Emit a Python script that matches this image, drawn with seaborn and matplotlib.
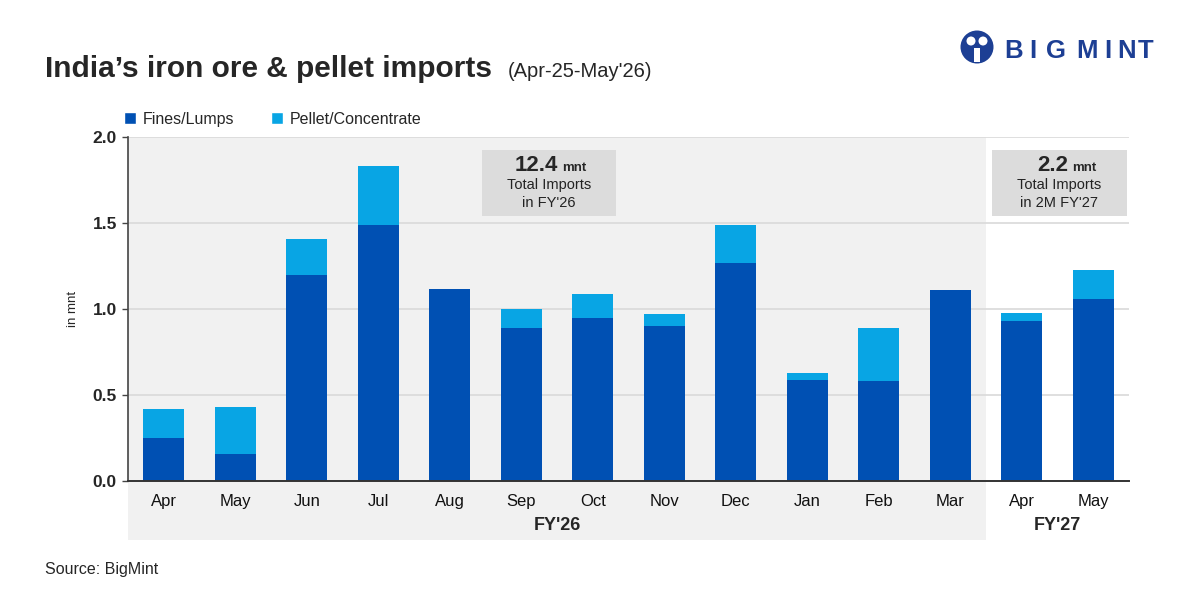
import pandas as pd
import matplotlib.pyplot as plt
import matplotlib.transforms as mtransforms
from matplotlib.patches import Rectangle, Circle, Patch
import seaborn as sns


# data (mnt)
periods = ["Apr'25", "May'25", "Jun'25", "Jul'25", "Aug'25", "Sep'25", "Oct'25",
           "Nov'25", "Dec'25", "Jan'26", "Feb'26", "Mar'26", "Apr'26", "May'26"]
months = ["Apr", "May", "Jun", "Jul", "Aug", "Sep", "Oct",
          "Nov", "Dec", "Jan", "Feb", "Mar", "Apr", "May"]
fines_lumps = [0.25, 0.16, 1.20, 1.49, 1.12, 0.89, 0.95, 0.90, 1.27, 0.59, 0.58, 1.11, 0.93, 1.06]
pellet_conc = [0.17, 0.27, 0.21, 0.34, 0.00, 0.11, 0.14, 0.07, 0.22, 0.04, 0.31, 0.00, 0.05, 0.17]
fy_labels = ["FY'26", "FY'27"]
fy_totals = ["12.4", "2.2"]
fy_notes = ["in FY'26", "in 2M FY'27"]

FINES = "#0050b3"
PELLET = "#08a5e4"
BG_GRAY = "#f1f1f1"
BOX_GRAY = "#dcdcdc"
LOGO_BLUE = "#1d3f94"

sns.set_style("white")
plt.rcParams['font.family'] = ['Liberation Sans', 'DejaVu Sans']

df = pd.DataFrame({"period": periods, "month": months,
                   "fines": fines_lumps, "pellet": pellet_conc})
df["total"] = df["fines"] + df["pellet"]


def px(x, y):
    """pixel position (from top-left) -> figure fraction"""
    return x / 1200, 1 - y / 600


def main():
    fig = plt.figure(figsize=(12, 6), dpi=100)
    ax = fig.add_axes([0.1067, 0.198, 0.8342, 0.5733])

    # stacked bars: total in pellet colour, fines drawn over it
    sns.barplot(data=df, x="period", y="total", order=periods, color=PELLET,
                saturation=1, width=0.57, ax=ax, zorder=3, linewidth=0)
    sns.barplot(data=df, x="period", y="fines", order=periods, color=FINES,
                saturation=1, width=0.57, ax=ax, zorder=4, linewidth=0)

    ax.set_xlim(-0.5, 13.5)
    ax.set_ylim(0, 2.0)
    ax.set_facecolor("white")

    # grey backdrop for FY'26, running down under the month labels
    trans = mtransforms.blended_transform_factory(ax.transData, ax.transAxes)
    ax.add_patch(Rectangle((-0.5, -0.172), 12, 1.172, transform=trans,
                           facecolor=BG_GRAY, edgecolor="none", clip_on=False, zorder=0))

    # grid
    for y in [0.5, 1.0, 1.5, 2.0]:
        ax.axhline(y, color="#d9d9d9", lw=1.2, zorder=1)

    for s in ["top", "right"]:
        ax.spines[s].set_visible(False)
    ax.spines["left"].set_color("#444444")
    ax.spines["bottom"].set_color("#333333")
    ax.spines["left"].set_linewidth(1.2)
    ax.spines["bottom"].set_linewidth(1.4)
    ax.spines["left"].set_zorder(5)
    ax.spines["bottom"].set_zorder(5)

    ax.set_yticks([0, 0.5, 1.0, 1.5, 2.0])
    ax.set_yticklabels(["0.0", "0.5", "1.0", "1.5", "2.0"], fontweight="bold", fontsize=12.5)
    ax.tick_params(axis="y", length=4, width=1, color="#444444", pad=4, left=True)
    ax.set_xticks(range(len(months)))
    ax.set_xticklabels(months, fontsize=12, color="#111111")
    ax.tick_params(axis="x", length=0, pad=9)
    ax.set_xlabel("")
    ax.set_ylabel("in mnt", fontsize=9.5, labelpad=10)

    # FY labels under months
    ax.text(5.5, -0.128, fy_labels[0], transform=trans, ha="center", va="center",
            fontsize=13, fontweight="bold")
    ax.text(12.5, -0.128, fy_labels[1], transform=trans, ha="center", va="center",
            fontsize=13, fontweight="bold")

    # legend
    handles = [Patch(facecolor=FINES, label="Fines/Lumps"),
               Patch(facecolor=PELLET, label="Pellet/Concentrate")]
    ax.legend(handles=handles, loc="lower left", bbox_to_anchor=(-0.01, 1.012), ncol=2,
              frameon=False, fontsize=11.5, handlelength=0.75, handleheight=0.75,
              handletextpad=0.4, columnspacing=2.3, borderaxespad=0)

    # total-imports boxes
    boxes = [(482, 616), (992, 1127)]
    for (x0, x1), tot, note in zip(boxes, fy_totals, fy_notes):
        fig.patches.append(Rectangle(px(x0, 216), (x1 - x0) / 1200, 66 / 600,
                                     transform=fig.transFigure, facecolor=BOX_GRAY,
                                     edgecolor="none", zorder=2))
        cx = (x0 + x1) / 2
        split = cx + 9
        fig.text(*px(split, 171), tot, ha="right", va="baseline",
                 fontsize=16, fontweight="bold")
        fig.text(*px(split + 4, 171), "mnt", ha="left", va="baseline",
                 fontsize=9.5, fontweight="bold")
        fig.text(*px(cx, 185), "Total Imports", ha="center", va="center",
                 fontsize=10.5, color="#222222")
        fig.text(*px(cx, 203), note, ha="center", va="center",
                 fontsize=10.5, color="#222222")

    # title
    fig.text(*px(45, 77), "India\u2019s iron ore & pellet imports", ha="left",
             va="baseline", fontsize=21.5, fontweight="bold")
    fig.text(*px(508, 77), "(Apr-25-May'26)", ha="left", va="baseline", fontsize=14.5)

    # logo (circle drawn in inches so it stays round)
    inch = fig.dpi_scale_trans
    fig.patches.append(Circle((9.77, 6 - 0.47), 0.165, transform=inch,
                              facecolor=LOGO_BLUE, edgecolor="none"))
    for hx in (9.71, 9.83):
        fig.patches.append(Circle((hx, 6 - 0.41), 0.045, transform=inch,
                                  facecolor="white", edgecolor="none"))
    fig.patches.append(Rectangle((9.745, 6 - 0.62), 0.05, 0.14, transform=inch,
                                 facecolor="white", edgecolor="none"))
    for ch, cx in zip("BIGMINT", [1014, 1033, 1056, 1087, 1108, 1127, 1146]):
        fig.text(*px(cx, 58), ch, ha="center", va="baseline", fontsize=18.5,
                 fontweight="heavy", color=LOGO_BLUE)

    # source
    fig.text(*px(45, 574), "Source: BigMint", ha="left", va="baseline", fontsize=11.5)

    fig.savefig("out.png", dpi=100)


if __name__ == "__main__":
    main()
